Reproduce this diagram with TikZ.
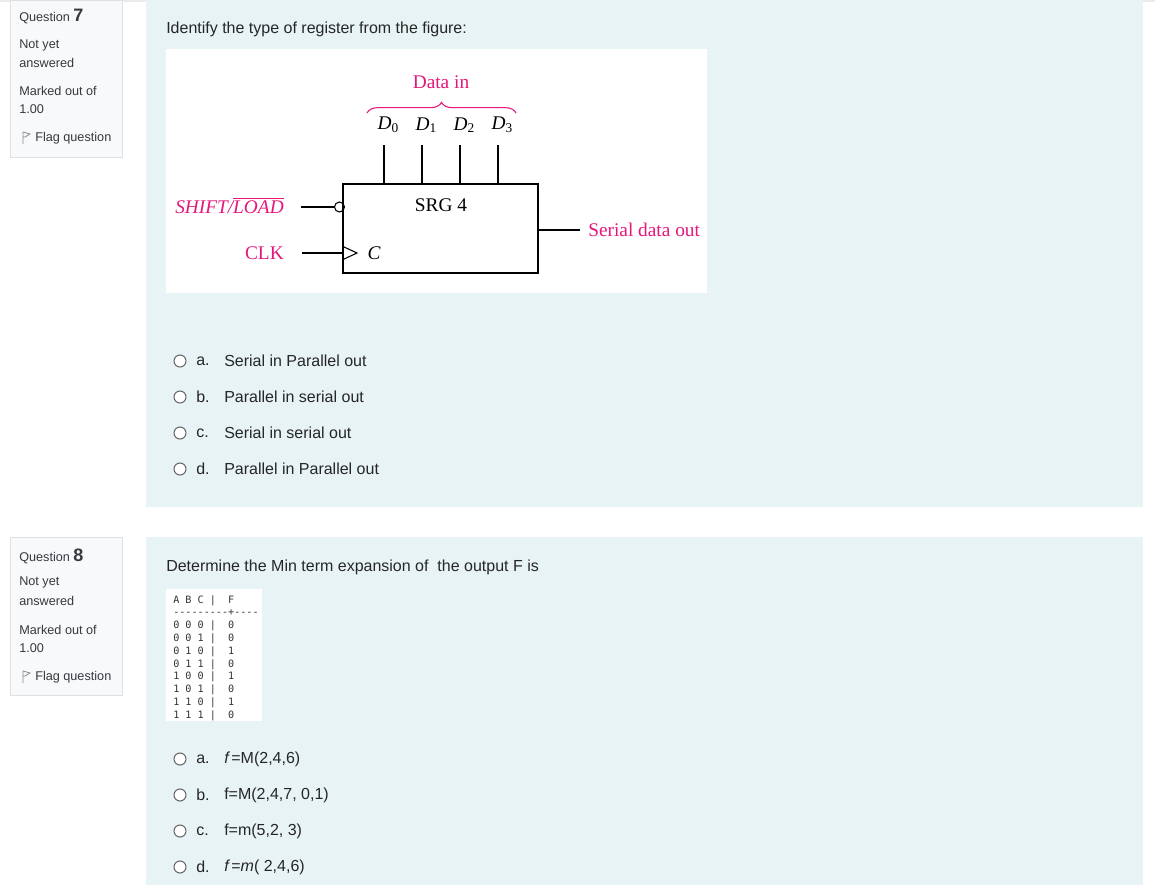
\documentclass[tikz,border=0pt]{standalone}
\usepackage{fontspec}
\setmainfont{Liberation Sans}
\newfontfamily\serif{Liberation Serif}
\newfontfamily\mono{DejaVu Sans Mono}
\usetikzlibrary{decorations.pathreplacing}
\definecolor{side}{HTML}{F8F9FA}
\definecolor{sideb}{HTML}{DEE2E6}
\definecolor{qbg}{HTML}{E7F3F5}
\definecolor{pink}{HTML}{E5177B}
\definecolor{txt}{HTML}{343A40}
\begin{document}
\begin{tikzpicture}[x=0.75pt,y=-0.75pt,
  sidetxt/.style={anchor=west,inner sep=0pt,font=\fontsize{9.5}{11}\selectfont,text=txt},
  qtxt/.style={anchor=west,inner sep=0pt,font=\fontsize{12}{14}\selectfont,text=black!85},
  radio/.style={circle,draw=black!60,line width=0.8pt,minimum size=9pt,inner sep=0pt,fill=white},
  dlabel/.style={inner sep=0pt,font=\serif\fontsize{14.5}{16}\selectfont},
  plabel/.style={dlabel,text=pink},
  wire/.style={line width=0.8pt}]
\useasboundingbox (0,0) rectangle (1155,885);
\fill[white] (0,0) rectangle (1155,885);
\draw[black!8,line width=1pt] (0,1) -- (1155,1);
\draw[fill=side,draw=sideb] (10,0) rectangle (122,157);
\draw[fill=side,draw=sideb] (10,537) rectangle (122,695);
\fill[qbg] (146,0) rectangle (1143,507);
\fill[qbg] (146,537) rectangle (1143,885);
% sidebar 7
\node[sidetxt] (q7) at (19,17) {Question \fontsize{13.5}{14}\selectfont\bfseries 7};
\node[sidetxt] (ny7) at (19,45) {Not yet};
\node[sidetxt] (an7) at (19,63) {answered};
\node[sidetxt] (mo7) at (19,91) {Marked out of};
\node[sidetxt] (p7) at (19,109) {1.00};
\node[sidetxt] (f7) at (35,138) {Flag question};
\draw[black!45,line width=0.6pt] (23,144) -- (23,132) -- (30,134) -- (25,137) -- (23,137);
% sidebar 8
\node[sidetxt] (q8) at (19,556) {Question \fontsize{13.5}{14}\selectfont\bfseries 8};
\node[sidetxt] (ny8) at (19,582) {Not yet};
\node[sidetxt] (an8) at (19,601) {answered};
\node[sidetxt] (mo8) at (19,630) {Marked out of};
\node[sidetxt] (p8) at (19,648) {1.00};
\node[sidetxt] (f8) at (35,677) {Flag question};
\draw[black!45,line width=0.6pt] (23,683) -- (23,671) -- (30,673) -- (25,676) -- (23,676);
% Q7 text
\node[qtxt] (t7) at (166,29) {Identify the type of register from the figure:};
\fill[white] (166,49) rectangle (707,293);
% diagram
\draw[line width=1.3pt] (343,184) rectangle (538,273);
\node[dlabel] (srg) at (441,205) {SRG 4};
\foreach \x/\i in {384/0,422/1,460/2,498/3}{
  \coordinate (top\i) at (\x,145);
  \coordinate (bot\i) at (\x,184);
  \draw[wire] (top\i) -- (bot\i);
  \node[dlabel] (d\i) at (\x+4,125) {\itshape D\upshape\raisebox{-0.3ex}{\fontsize{10}{10}\selectfont\i}};
}
\coordinate (bl) at (367,113);
\coordinate (br) at (516,113);
\draw[pink,line width=0.8pt,decorate,decoration={brace,amplitude=8pt}] (bl) -- (br);
\node[plabel] (din) at (441,82) {Data in};
\node[plabel,anchor=base east] (sl) at (284,213) {\itshape SHIFT/\rlap{\rule[1.65ex]{2.65em}{0.6pt}}LOAD};
\coordinate (slw) at (301,207);
\node[circle,draw,line width=0.8pt,minimum size=7.5pt,inner sep=0pt] (bub) at (339.5,207) {};
\draw[wire] (slw) -- (bub);
\node[plabel,anchor=east] (clk) at (284,253) {CLK};
\coordinate (clkw) at (302,253);
\coordinate (clke) at (343,253);
\draw[wire] (clkw) -- (clke);
\draw[wire] (343,246.5) -- (357,253) -- (343,259.5);
\node[dlabel] (c) at (374,253) {\itshape C};
\coordinate (outw) at (538,230);
\coordinate (oute) at (580,230);
\draw[wire] (outw) -- (oute);
\node[plabel,anchor=west] (sdo) at (588,230) {Serial data out};
% options Q7
\foreach \y/\l/\t in {361/a./Serial in Parallel out,397/b./Parallel in serial out,433/c./Serial in serial out,469/d./Parallel in Parallel out}{
  \node[radio] at (180,\y) {};
  \node[qtxt] at (196,\y) {\l};
  \node[qtxt] at (224,\y) {\t};
}
% Q8
\node[qtxt] (t8) at (166,567) {Determine the Min term expansion of \ the output F is};
\fill[white] (166,589) rectangle (262,721);
\node[anchor=north west,inner sep=0pt,font=\mono\fontsize{7.6}{9}\selectfont,align=left,text=black!80] (tt) at (173,595) {%
A\ B\ C\ |\ \ F\\[0.6pt]
---------+----\\[0.6pt]
0\ 0\ 0\ |\ \ 0\\[0.6pt]
0\ 0\ 1\ |\ \ 0\\[0.6pt]
0\ 1\ 0\ |\ \ 1\\[0.6pt]
0\ 1\ 1\ |\ \ 0\\[0.6pt]
1\ 0\ 0\ |\ \ 1\\[0.6pt]
1\ 0\ 1\ |\ \ 0\\[0.6pt]
1\ 1\ 0\ |\ \ 1\\[0.6pt]
1\ 1\ 1\ |\ \ 0};
\foreach \y/\l in {759/a.,795/b.,831/c.,867/d.}{
  \node[radio] at (180,\y) {};
  \node[qtxt] at (196,\y) {\l};
}
\node[qtxt] (oa) at (224,759) {\itshape f\upshape\,=M(2,4,6)};
\node[qtxt] (ob) at (224,795) {f=M(2,4,7, 0,1)};
\node[qtxt] (oc) at (224,831) {f=m(5,2, 3)};
\node[qtxt] (od) at (224,867) {\itshape f\upshape\,=\itshape m\upshape( 2,4,6)};
\end{tikzpicture}
\end{document}
